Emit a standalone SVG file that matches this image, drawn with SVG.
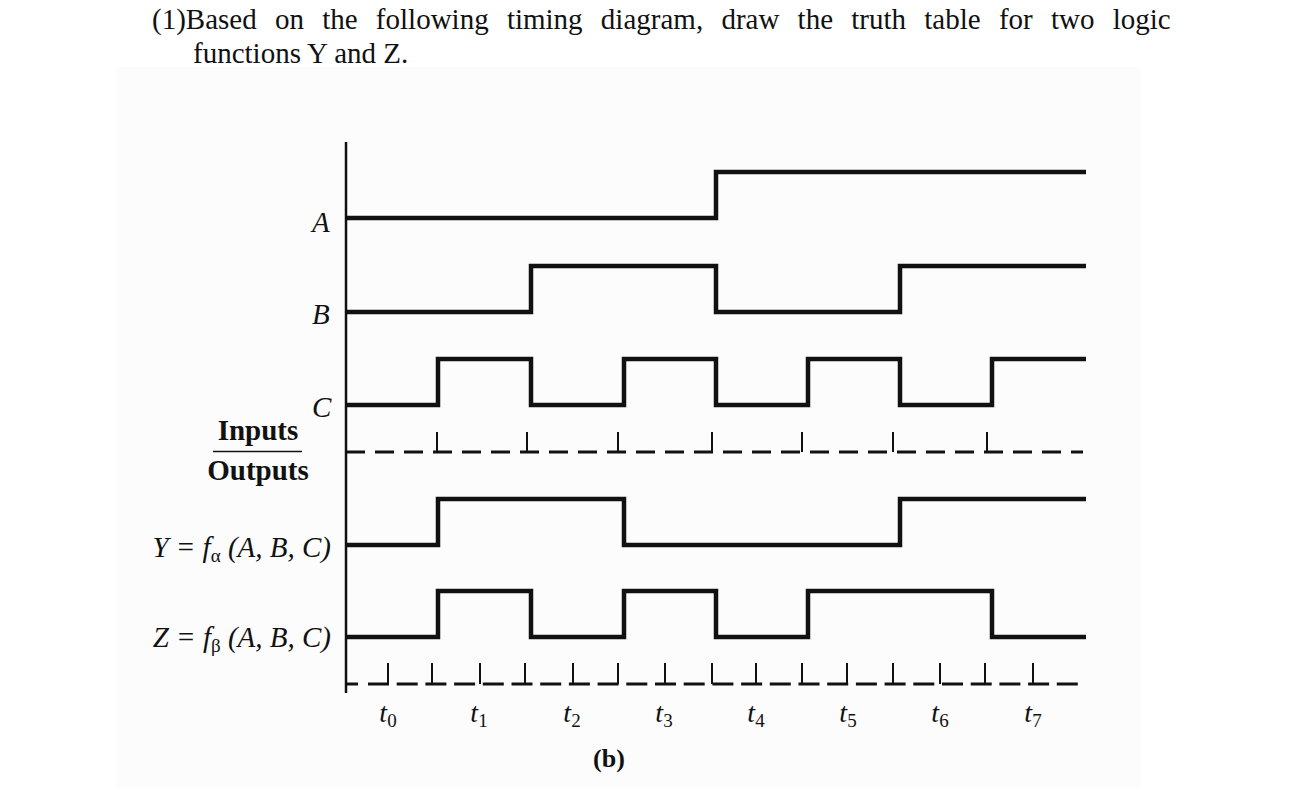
<svg xmlns="http://www.w3.org/2000/svg" width="1290" height="812" viewBox="0 0 1290 812">
<style>
.wave{fill:none;stroke:#111;stroke-width:4.5;stroke-linejoin:miter;stroke-linecap:butt}
.axis{fill:none;stroke:#111;stroke-width:2.5}
.dash{fill:none;stroke:#111;stroke-width:3;stroke-dasharray:19 10}
.tick{fill:none;stroke:#111;stroke-width:2}
.title{font-family:"Liberation Serif",serif;font-size:29px;fill:#111}
.lbl{font-family:"Liberation Serif",serif;font-size:29px;font-style:italic;fill:#111}
.fn{font-family:"Liberation Serif",serif;font-size:29px;font-style:italic;fill:#111}
.bold{font-family:"Liberation Serif",serif;font-size:29px;font-weight:bold;fill:#111}
.tl{font-family:"Liberation Serif",serif;font-size:28px;font-style:italic;fill:#111;text-anchor:middle}
.sub{font-size:19px;font-style:normal}
</style>
<rect x="0" y="0" width="1290" height="812" fill="#ffffff"/>
<rect x="116" y="67" width="1025" height="721" fill="#fcfcfc"/>
<g id="title">
<text class="title" x="152" y="29" word-spacing="11">(1)Based on the following timing diagram, draw the truth table for two logic</text>
<text class="title" x="193" y="63">functions Y and Z.</text>
</g>
<g id="axis">
<line class="axis" x1="346" y1="142" x2="346" y2="693"/>
</g>
<g id="signal-A">
<text class="lbl" x="312" y="232">A</text>
<polyline class="wave" points="346,218 716,218 716,172 1086,172"/>
</g>
<g id="signal-B">
<text class="lbl" x="312" y="324">B</text>
<polyline class="wave" points="346,312 531,312 531,266 716,266 716,312 900,312 900,266 1086,266"/>
</g>
<g id="signal-C">
<text class="lbl" x="312" y="417">C</text>
<polyline class="wave" points="346,405 438,405 438,359 531,359 531,405 624,405 624,359 716,359 716,405 808,405 808,359 900,359 900,405 992,405 992,359 1086,359"/>
</g>
<g id="divider">
<text class="bold" x="258" y="440" text-anchor="middle">Inputs</text>
<line x1="213" y1="451.5" x2="302" y2="451.5" stroke="#111" stroke-width="1.6"/>
<text class="bold" x="258" y="480" text-anchor="middle">Outputs</text>
<line class="dash" x1="346" y1="452" x2="1083" y2="452"/>
<path class="tick" d="M437,432V452M527,432V452M618,432V452M712,432V452M802,432V452M893,432V452M987,432V452"/>
</g>
<g id="signal-Y">
<text class="fn" x="331" y="557" text-anchor="end">Y = f<tspan class="sub" dy="5">α</tspan><tspan dy="-5"> (A, B, C)</tspan></text>
<polyline class="wave" points="346,545 438,545 438,499 624,499 624,545 900,545 900,499 1086,499"/>
</g>
<g id="signal-Z">
<text class="fn" x="331" y="647" text-anchor="end">Z = f<tspan class="sub" dy="5">β</tspan><tspan dy="-5"> (A, B, C)</tspan></text>
<polyline class="wave" points="346,637 438,637 438,591 531,591 531,637 624,637 624,591 716,591 716,637 808,637 808,591 992,591 992,637 1086,637"/>
</g>
<g id="time-axis">
<line x1="346" y1="684" x2="358" y2="684" stroke="#111" stroke-width="3"/>
<line class="dash" x1="368" y1="684" x2="1083" y2="684" style="stroke-dasharray:21 7.7"/>
<path class="tick" d="M388,663V684M432,663V684M480,663V684M525,663V684M573,663V684M618,663V684M665,663V684M712,663V684M756,663V684M802,663V684M847,663V684M893,663V684M940,663V684M985,663V684M1033,663V684"/>
<text class="tl" x="388" y="722">t<tspan class="sub" dy="5">0</tspan></text>
<text class="tl" x="479" y="722">t<tspan class="sub" dy="5">1</tspan></text>
<text class="tl" x="572" y="722">t<tspan class="sub" dy="5">2</tspan></text>
<text class="tl" x="664" y="722">t<tspan class="sub" dy="5">3</tspan></text>
<text class="tl" x="756" y="722">t<tspan class="sub" dy="5">4</tspan></text>
<text class="tl" x="848" y="722">t<tspan class="sub" dy="5">5</tspan></text>
<text class="tl" x="940" y="722">t<tspan class="sub" dy="5">6</tspan></text>
<text class="tl" x="1033" y="722">t<tspan class="sub" dy="5">7</tspan></text>
</g>
<g id="caption">
<text x="609" y="767" text-anchor="middle" font-family="Liberation Serif, serif" font-size="26" font-weight="bold" fill="#111">(b)</text>
</g>
</svg>
